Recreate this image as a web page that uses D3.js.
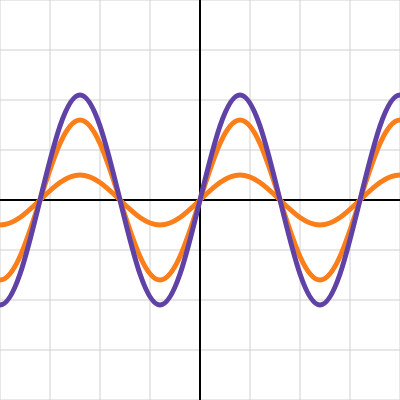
<!DOCTYPE html>
<html><head><meta charset="utf-8">
<script src="https://cdn.jsdelivr.net/npm/d3@7"></script>
<style>body{margin:0;background:#fff}</style></head>
<body><svg id="c" width="400" height="400"></svg>
<script>
const xs = [-4.8,-4.4,-4,-3.6,-3.2,-2.8,-2.4,-2,-1.6,-1.2,-0.8,-0.4,0,0.4,0.8,1.2,1.6,2,2.4,2.8,3.2,3.6,4,4.4,4.8];
const purple = [0,-1.48,-2.1,-1.48,0,1.48,2.1,1.48,0,-1.48,-2.1,-1.48,0,1.48,2.1,1.48,0,-1.48,-2.1,-1.48,0,1.48,2.1,1.48,0];
const orangeBig = [0,-1.13,-1.6,-1.13,0,1.13,1.6,1.13,0,-1.13,-1.6,-1.13,0,1.13,1.6,1.13,0,-1.13,-1.6,-1.13,0,1.13,1.6,1.13,0];
const orangeSmall = [0,-0.35,-0.5,-0.35,0,0.35,0.5,0.35,0,-0.35,-0.5,-0.35,0,0.35,0.5,0.35,0,-0.35,-0.5,-0.35,0,0.35,0.5,0.35,0];
const gridTicks = [-4,-3,-2,-1,0,1,2,3,4];

const svg = d3.select("#c");
const x = d3.scaleLinear().domain([-4,4]).range([0,400]);
const y = d3.scaleLinear().domain([-4,4]).range([400,0]);
const g = svg.append("g");
g.selectAll(".vx").data(gridTicks).join("line").attr("x1",d=>x(d)).attr("x2",d=>x(d)).attr("y1",0).attr("y2",400).attr("stroke","#d0d0d0").attr("stroke-width",1);
g.selectAll(".hy").data(gridTicks).join("line").attr("y1",d=>y(d)).attr("y2",d=>y(d)).attr("x1",0).attr("x2",400).attr("stroke","#d0d0d0").attr("stroke-width",1);
svg.append("line").attr("x1",x(0)).attr("x2",x(0)).attr("y1",0).attr("y2",400).attr("stroke","#000").attr("stroke-width",2);
svg.append("line").attr("y1",y(0)).attr("y2",y(0)).attr("x1",0).attr("x2",400).attr("stroke","#000").attr("stroke-width",2);
const line = d3.line().x(d=>x(d[0])).y(d=>y(d[1])).curve(d3.curveNatural);
[[orangeSmall,"#fa7e19"],[orangeBig,"#fa7e19"],[purple,"#6042a6"]].forEach(([s,c])=>{
  svg.append("path").attr("d",line(xs.map((v,i)=>[v,s[i]]))).attr("fill","none").attr("stroke",c).attr("stroke-width",5).attr("stroke-linejoin","round").attr("stroke-linecap","round");
});
</script></body></html>
